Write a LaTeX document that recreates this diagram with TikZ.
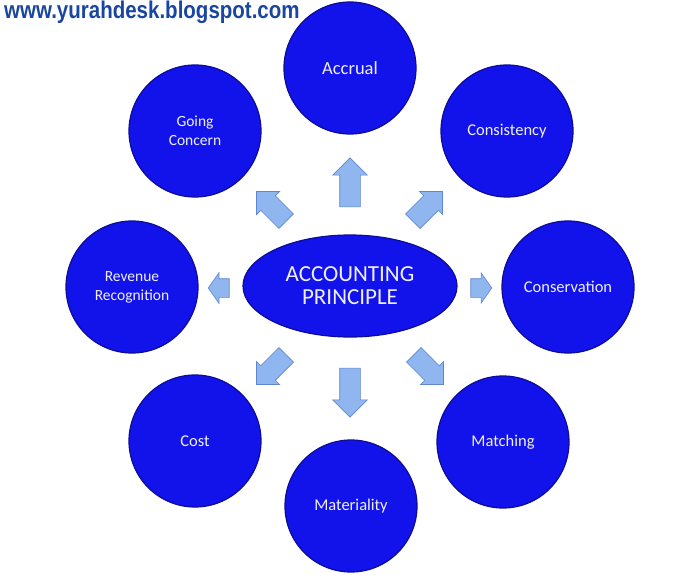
\documentclass[tikz,border=0pt]{standalone}
\usepackage{fontspec}
\setmainfont{Carlito}
\newfontfamily\urlfont{Liberation Sans}
\usetikzlibrary{shapes.geometric,shapes.arrows}
\definecolor{bub}{RGB}{18,18,235}
\definecolor{bubedge}{RGB}{12,12,150}
\definecolor{arr}{RGB}{143,182,238}
\definecolor{arredge}{RGB}{95,134,208}
\definecolor{urlc}{RGB}{25,70,160}
\definecolor{txt}{RGB}{238,240,255}
\begin{document}
\begin{tikzpicture}[x=1pt,y=-1pt,
  bubble/.style={circle, fill=bub, draw=bubedge, line width=1.2pt, minimum size=132pt,
    inner sep=0pt, text=txt, align=center, font=\fontsize{16.5}{19}\selectfont},
  centre/.style={ellipse, fill=bub, draw=bubedge, line width=1.2pt, minimum width=214pt,
    minimum height=102pt, inner sep=0pt, text=txt, align=center, font=\fontsize{23}{23}\selectfont},
  barrow/.style={single arrow, fill=arr, draw=arredge, line width=0.6pt, inner xsep=0pt,
    inner ysep=10pt, single arrow head extend=7pt, minimum height=49pt},
  sarrow/.style={single arrow, fill=arr, draw=arredge, line width=0.6pt, inner xsep=0pt,
    inner ysep=9pt, single arrow head extend=6pt, single arrow tip angle=110, minimum height=21pt},
  darrow/.style={single arrow, fill=arr, draw=arredge, line width=0.6pt, inner xsep=0pt,
    inner ysep=10pt, single arrow head extend=6pt, minimum height=42pt}
]
\useasboundingbox (0,0) rectangle (700,575);
\fill[white] (0,0) rectangle (700,575);

\node[bubble, font=\fontsize{18.5}{21}\selectfont] (accrual) at (350,68) {Accrual};
\node[bubble] (consistency) at (507,131) {Consistency};
\node[bubble] (conservation) at (568,287) {Conservation};
\node[bubble] (matching) at (503,442) {Matching};
\node[bubble] (materiality) at (351,506) {Materiality};
\node[bubble] (cost) at (195,441) {Cost};
\node[bubble, font=\fontsize{15.5}{19}\selectfont] (revenue) at (132,287) {Revenue\\Recognition};
\node[bubble, font=\fontsize{15.5}{19}\selectfont] (going) at (195,131) {Going\\Concern};

\node[centre] (ap) at (350,286) {ACCOUNTING\\PRINCIPLE};

\node[barrow, rotate=90] (aup) at (350,187.5) {};
\node[barrow, rotate=-90] (adown) at (350,387.5) {};
\node[sarrow, rotate=180] (aleft) at (222,288) {};
\node[sarrow, rotate=0] (aright) at (478,288) {};
\node[darrow, rotate=135] (aul) at (275,210) {};
\node[darrow, rotate=45] (aur) at (424,210) {};
\node[darrow, rotate=225] (all) at (275,366) {};
\node[darrow, rotate=-45] (alr) at (425,366) {};

\node[anchor=west, inner sep=0pt, text=urlc, font=\urlfont\bfseries\fontsize{20.5}{21}\selectfont] (url) at (4,12) {\scalebox{1.0}[1.18]{www.yurahdesk.blogspot.com}};
\end{tikzpicture}
\end{document}
